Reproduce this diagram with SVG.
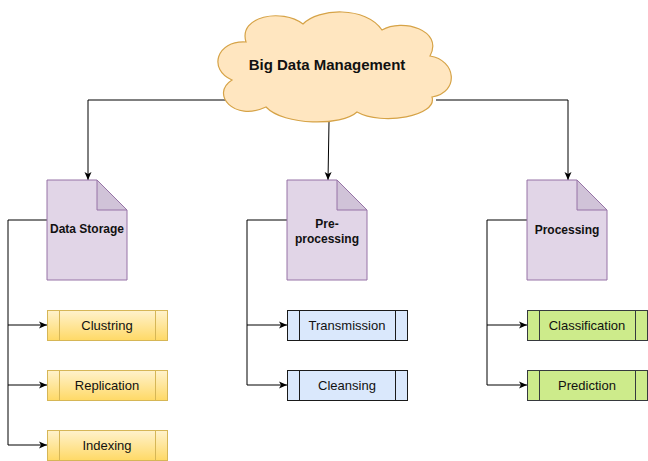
<svg xmlns="http://www.w3.org/2000/svg" width="648" height="461" viewBox="0 0 648 461">
<defs>
<linearGradient id="yg" x1="0" y1="0" x2="0" y2="1"><stop offset="0" stop-color="#fff2cc"/><stop offset="1" stop-color="#ffd966"/></linearGradient>
<marker id="ar" markerWidth="10" markerHeight="10" refX="9" refY="5" orient="auto" markerUnits="userSpaceOnUse"><path d="M1,1.5 L9,5 L1,8.5 L3,5 Z" fill="#000"/></marker>
<style>
text{font-family:"Liberation Sans",Arial,sans-serif;text-anchor:middle;dominant-baseline:central;fill:#111}
.doc{fill:#e1d5e7;stroke:#9673a6}
.fold{fill:#d0c3d8;stroke:#9673a6}
.y{fill:url(#yg);stroke:#d6b656}
.b{fill:#dae8fc;stroke:#1a1a1a}
.g{fill:#cdeb8b;stroke:#36393d}
.c{fill:none;stroke:#000;stroke-width:1;marker-end:url(#ar)}
.dt{font-size:12px;font-weight:bold}
.pt{font-size:13px}
</style>
</defs>
<g id="connectors">
<path class="c" d="M231,100 H88 V180"/>
<path class="c" d="M329,122 L328,180"/>
<path class="c" d="M436,100 H568 V180"/>
<path class="c" d="M47,220 H8 V445 H47"/>
<path class="c" d="M8,325 H47"/>
<path class="c" d="M8,385 H47"/>
<path class="c" d="M287,220 H247 V385 H287"/>
<path class="c" d="M247,325 H287"/>
<path class="c" d="M527,220 H487 V385 H527"/>
<path class="c" d="M487,325 H527"/>
</g>
<g id="cloud">
<path d="M246,42 C216,40 208,70 232,80 C210,94 234,122 266,107 C284,126 342,126 357,112 C382,126 438,116 432,97 C460,92 456,60 430,56 C444,30 402,18 382,30 C366,6 318,8 303,24 C282,8 238,16 246,42 Z" fill="#ffe6c0" stroke="#d6a347" stroke-width="1.2"/>
<text x="327" y="64" style="font-size:15px;font-weight:bold">Big Data Management</text>
</g>
<g id="doc-storage"><path class="doc" d="M47,180 H97 L127,210 V280 H47 Z"/><path class="fold" d="M97,180 V210 H127 Z"/><text class="dt" x="87" y="229">Data Storage</text></g>
<g id="doc-pre"><path class="doc" d="M287,180 H337 L367,210 V280 H287 Z"/><path class="fold" d="M337,180 V210 H367 Z"/><text class="dt" x="327" y="224">Pre-</text><text class="dt" x="327" y="239">processing</text></g>
<g id="doc-proc"><path class="doc" d="M527,180 H577 L607,210 V280 H527 Z"/><path class="fold" d="M577,180 V210 H607 Z"/><text class="dt" x="567" y="230">Processing</text></g>
<g id="clustring"><rect class="y" x="47.5" y="310.5" width="120" height="30"/><path d="M59.5,310.5 V340.5 M155.5,310.5 V340.5" stroke="#d6b656"/><text class="pt" x="107" y="325">Clustring</text></g>
<g id="replication"><rect class="y" x="47.5" y="370.5" width="120" height="30"/><path d="M59.5,370.5 V400.5 M155.5,370.5 V400.5" stroke="#d6b656"/><text class="pt" x="107" y="385">Replication</text></g>
<g id="indexing"><rect class="y" x="47.5" y="430.5" width="120" height="30"/><path d="M59.5,430.5 V460.5 M155.5,430.5 V460.5" stroke="#d6b656"/><text class="pt" x="107" y="445">Indexing</text></g>
<g id="transmission"><rect class="b" x="287.5" y="310.5" width="120" height="30"/><path d="M299.5,310.5 V340.5 M395.5,310.5 V340.5" stroke="#1a1a1a"/><text class="pt" x="347" y="325">Transmission</text></g>
<g id="cleansing"><rect class="b" x="287.5" y="370.5" width="120" height="30"/><path d="M299.5,370.5 V400.5 M395.5,370.5 V400.5" stroke="#1a1a1a"/><text class="pt" x="347" y="385">Cleansing</text></g>
<g id="classification"><rect class="g" x="527.5" y="310.5" width="120" height="30"/><path d="M539.5,310.5 V340.5 M635.5,310.5 V340.5" stroke="#36393d"/><text class="pt" x="587" y="325">Classification</text></g>
<g id="prediction"><rect class="g" x="527.5" y="370.5" width="120" height="30"/><path d="M539.5,370.5 V400.5 M635.5,370.5 V400.5" stroke="#36393d"/><text class="pt" x="587" y="385">Prediction</text></g>
</svg>
